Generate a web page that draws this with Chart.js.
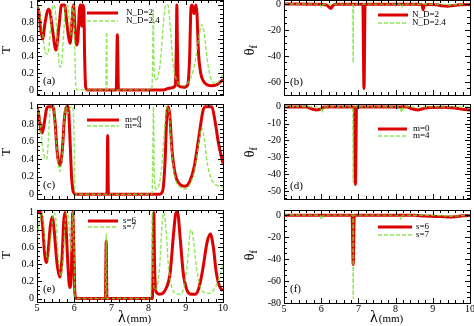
<!DOCTYPE html>
<html>
<head>
<meta charset="utf-8">
<script src="https://cdn.jsdelivr.net/npm/chart.js@4.4.0/dist/chart.umd.min.js"></script>
<style>
  html, body { margin: 0; padding: 0; background: #fff; }
  #wrap { position: relative; width: 474px; height: 326px; overflow: hidden; }
  #wrap canvas { position: absolute; left: 0; top: 0; }
</style>
</head>
<body>
<div id="wrap">
  <canvas id="cA" width="474" height="326"></canvas>
  <canvas id="cB" width="474" height="326"></canvas>
  <canvas id="cC" width="474" height="326"></canvas>
  <canvas id="cD" width="474" height="326"></canvas>
  <canvas id="cE" width="474" height="326"></canvas>
  <canvas id="cF" width="474" height="326"></canvas>
</div>
<script>
// ---- data ----
const xTicks = [5, 6, 7, 8, 9, 10];
const tTicks = [0, 0.2, 0.4, 0.6, 0.8, 1];
const bTicks = [0, -20, -40, -60];
const dTicks = [0, -10, -20, -30, -40, -50];
const fTicks = [0, -20, -40, -60, -80];

const legendA = ['N_D=2', 'N_D=2.4'];
const legendC = ['m=0', 'm=4'];
const legendE = ['s=6', 's=7'];

// (a) transmission, N_D=2 / N_D=2.4
const aRedX = [5.00, 5.05, 5.10, 5.15, 5.22, 5.30, 5.35, 5.42, 5.51, 5.59, 5.66, 5.74, 5.80, 5.85, 5.89, 5.94, 5.98, 6.02, 6.07, 6.10, 6.14, 6.17, 6.20, 6.23, 6.26, 6.28, 6.31, 6.36, 7.13, 7.16, 7.19, 8.40, 8.55, 8.72, 8.745, 8.76, 8.775, 8.80, 8.95, 9.05, 9.10, 9.14, 9.17, 9.22, 9.27, 9.30, 9.34, 9.40, 9.48, 9.58, 9.70, 9.82, 9.92, 10.00];
const aRedY = [1.00, 0.92, 0.72, 0.60, 0.80, 0.95, 0.92, 0.70, 0.47, 0.75, 1.00, 1.00, 0.80, 0.62, 0.55, 0.80, 1.00, 0.75, 0.53, 0.60, 0.95, 1.00, 0.75, 1.00, 0.95, 0.40, 0.03, 0.00, 0.00, 0.65, 0.00, 0.00, 0.02, 0.05, 0.50, 1.00, 0.50, 0.05, 0.03, 0.06, 0.35, 0.97, 1.00, 0.90, 1.00, 0.90, 0.45, 0.20, 0.10, 0.06, 0.05, 0.06, 0.09, 0.12];
const aGreenX = [5.00, 5.06, 5.14, 5.22, 5.29, 5.36, 5.43, 5.48, 5.55, 5.62, 5.66, 5.72, 5.77, 5.83, 5.87, 5.91, 5.95, 5.98, 6.01, 6.04, 6.08, 6.85, 6.87, 6.89, 8.08, 8.11, 8.125, 8.14, 8.18, 8.25, 8.32, 8.40, 8.46, 8.52, 8.58, 8.66, 8.75, 8.85, 8.95, 9.05, 9.15, 9.25, 9.35, 9.43, 9.50, 9.57, 9.65, 9.75, 9.85, 9.93, 10.00];
const aGreenY = [1.00, 0.95, 0.70, 0.45, 0.42, 0.70, 1.00, 0.98, 0.55, 0.27, 0.30, 0.70, 1.00, 1.00, 0.75, 0.65, 0.95, 1.00, 0.60, 0.08, 0.00, 0.00, 0.68, 0.00, 0.00, 0.35, 0.95, 0.35, 0.12, 0.15, 0.35, 0.80, 1.00, 1.00, 0.75, 0.30, 0.12, 0.06, 0.05, 0.08, 0.16, 0.32, 0.62, 0.77, 0.65, 0.38, 0.17, 0.08, 0.08, 0.13, 0.18];

// (b) Faraday rotation, N_D=2 / N_D=2.4
const bRedX = [5.00, 5.90, 6.12, 6.20, 6.26, 6.31, 6.38, 7.12, 7.15, 7.18, 8.60, 8.71, 8.74, 8.77, 8.90, 9.10, 9.25, 9.40, 9.55, 9.75, 10.00];
const bRedY = [0, -0.3, -0.6, -2.2, -3.5, -1.5, -0.3, -0.3, -65, -0.3, -0.3, -0.8, -4.5, -0.8, -0.4, -0.6, -1.5, -1.8, -1.2, -0.6, -0.4];
const bGreenX = [5.00, 5.90, 5.98, 6.01, 6.04, 6.15, 6.85, 6.86, 6.87, 8.08, 8.13, 8.16, 8.19, 8.30, 9.30, 9.50, 9.70, 10.00];
const bGreenY = [0, -0.2, -0.6, -3, -0.6, -0.2, -0.2, -45, -0.2, -0.2, -0.6, -3, -0.6, -0.2, -0.4, -0.8, -0.5, -0.2];

// (c) transmission, m=0 / m=4
const cRedX = [5.00, 5.05, 5.10, 5.14, 5.19, 5.26, 5.30, 5.43, 5.48, 5.55, 5.62, 5.68, 5.74, 5.79, 5.84, 5.88, 5.93, 5.98, 6.05, 6.88, 6.90, 6.92, 8.30, 8.38, 8.44, 8.49, 8.53, 8.57, 8.63, 8.72, 8.85, 8.98, 9.10, 9.22, 9.35, 9.46, 9.52, 9.70, 9.78, 9.88, 10.00];
const cRedY = [1.00, 0.90, 0.74, 0.70, 0.80, 0.98, 1.00, 1.00, 0.85, 0.45, 0.33, 0.50, 0.88, 1.00, 1.00, 0.70, 0.20, 0.02, 0.00, 0.00, 0.67, 0.00, 0.00, 0.04, 0.35, 0.90, 1.00, 0.90, 0.50, 0.22, 0.11, 0.09, 0.14, 0.30, 0.65, 0.95, 1.00, 1.00, 0.85, 0.58, 0.35];
const cGreenX = [5.00, 5.06, 5.13, 5.20, 5.26, 5.31, 5.36, 5.44, 5.50, 5.57, 5.62, 5.67, 5.73, 5.78, 5.83, 5.88, 5.95, 5.99, 6.02, 6.06, 8.09, 8.11, 8.13, 8.15, 8.19, 8.26, 8.35, 8.44, 8.50, 8.55, 8.62, 8.72, 8.85, 9.00, 9.12, 9.25, 9.36, 9.43, 9.50, 9.58, 9.68, 9.80, 9.90, 10.00];
const cGreenY = [1.00, 0.90, 0.62, 0.42, 0.40, 0.65, 1.00, 1.00, 0.70, 0.35, 0.26, 0.40, 0.85, 1.00, 0.92, 0.98, 1.00, 0.80, 0.05, 0.00, 0.00, 0.30, 1.00, 0.30, 0.06, 0.08, 0.30, 0.80, 1.00, 0.95, 0.50, 0.18, 0.08, 0.06, 0.12, 0.30, 0.62, 0.76, 0.62, 0.35, 0.18, 0.11, 0.09, 0.08];

// (d) Faraday rotation, m=0 / m=4
const dRedX = [5.00, 5.60, 5.75, 5.88, 6.00, 6.10, 6.89, 6.92, 6.95, 8.30, 8.45, 8.60, 8.75, 8.90, 9.30, 9.60, 9.80, 10.00];
const dRedY = [-0.2, -0.3, -1.4, -2.0, -1.2, -0.3, -0.3, -46, -0.3, -0.3, -1.4, -2.0, -1.2, -0.5, -0.4, -0.8, -1.6, -2.0];
const dGreenX = [5.00, 5.95, 5.99, 6.02, 6.05, 6.12, 6.85, 6.86, 6.87, 8.10, 8.13, 8.16, 8.19, 8.26, 10.00];
const dGreenY = [0, -0.3, -0.8, -3.5, -0.8, -0.2, -0.2, -45, -0.2, -0.2, -0.8, -3.5, -0.8, -0.2, -0.2];

// (e) transmission, s=6 / s=7
const eRedX = [5.00, 5.10, 5.15, 5.21, 5.25, 5.30, 5.36, 5.41, 5.46, 5.54, 5.61, 5.67, 5.72, 5.75, 5.78, 5.83, 5.88, 5.92, 5.96, 5.99, 6.02, 6.06, 6.84, 6.86, 6.88, 8.10, 8.12, 8.14, 8.16, 8.20, 8.30, 8.45, 8.58, 8.67, 8.74, 8.78, 8.85, 8.93, 9.03, 9.15, 9.25, 9.35, 9.46, 9.57, 9.66, 9.74, 9.82, 9.90, 10.00];
const eRedY = [1.00, 1.00, 0.85, 0.50, 0.42, 0.55, 0.85, 0.95, 0.80, 0.40, 0.25, 0.45, 0.90, 1.00, 0.85, 0.40, 0.13, 0.25, 1.00, 0.60, 0.05, 0.00, 0.00, 0.67, 0.00, 0.00, 0.40, 1.00, 0.40, 0.08, 0.05, 0.10, 0.30, 0.75, 1.00, 1.00, 0.70, 0.30, 0.10, 0.05, 0.05, 0.12, 0.35, 0.65, 0.75, 0.60, 0.30, 0.15, 0.09];
const eGreenX = [5.00, 5.05, 5.12, 5.17, 5.24, 5.30, 5.37, 5.45, 5.50, 5.57, 5.64, 5.70, 5.76, 5.80, 5.84, 5.88, 5.92, 5.96, 5.99, 6.02, 6.06, 6.84, 6.86, 6.88, 8.06, 8.08, 8.10, 8.12, 8.16, 8.22, 8.30, 8.36, 8.41, 8.46, 8.53, 8.62, 8.74, 8.86, 8.96, 9.05, 9.11, 9.15, 9.20, 9.28, 9.38, 9.50, 9.62, 9.75, 9.88, 10.00];
const eGreenY = [0.72, 0.85, 1.00, 0.90, 0.55, 0.45, 0.70, 1.00, 0.95, 0.50, 0.26, 0.45, 0.90, 1.00, 0.95, 0.70, 0.55, 1.00, 0.70, 0.03, 0.00, 0.00, 0.75, 0.00, 0.00, 0.40, 1.00, 0.40, 0.10, 0.12, 0.40, 0.85, 1.00, 0.85, 0.40, 0.14, 0.06, 0.05, 0.15, 0.45, 0.75, 0.80, 0.70, 0.38, 0.15, 0.07, 0.06, 0.10, 0.22, 0.40];

// (f) Faraday rotation, s=6 / s=7
const fRedX = [5.00, 6.83, 6.86, 6.89, 8.50, 8.80, 9.10, 9.40, 9.60, 9.80, 10.00];
const fRedY = [-0.2, -0.3, -45, -0.3, -0.3, -0.9, -1.3, -1.8, -1.6, -0.8, -0.4];
const fGreenX = [5.00, 5.95, 5.98, 6.01, 6.04, 6.10, 6.85, 6.86, 6.87, 8.08, 8.11, 8.14, 8.17, 8.23, 9.20, 9.50, 9.80, 10.00];
const fGreenY = [0, -0.3, -0.8, -4, -0.8, -0.2, -0.2, -76, -0.2, -0.2, -0.8, -4, -0.8, -0.2, -0.6, -1.2, -0.6, -0.3];

// ---- styling ----
const RED = '#dd0000';
const GREEN = 'rgba(110, 225, 40, 0.78)';
const SERIF = "'Liberation Serif', 'DejaVu Serif', serif";
const Y_AXIS_W = 30;
const X_AXIS_H = 14;

const toPoints = (xs, ys) => xs.map((x, i) => ({ x: x, y: ys[i] }));

// draws the frame ticks, legend, labels and titles of one panel
const panelDecor = {
    id: 'panelDecor',
    afterDraw(chart, args, o) {
        const { ctx, chartArea: a, scales: { x, y } } = chart;
        ctx.save();

        // top and right frame
        ctx.strokeStyle = '#000';
        ctx.lineWidth = 1;
        ctx.beginPath();
        ctx.moveTo(a.left, a.top + 0.5);
        ctx.lineTo(a.right + 1, a.top + 0.5);
        ctx.moveTo(a.right + 0.5, a.top);
        ctx.lineTo(a.right + 0.5, a.bottom + 1);
        ctx.stroke();

        // inward ticks on all four sides
        ctx.beginPath();
        const xn = Math.round((x.max - x.min) / o.xMinor);
        for (let i = 0; i <= xn; i++) {
            const v = x.min + i * o.xMinor;
            const major = xTicks.some(t => Math.abs(t - v) < 1e-6);
            const len = major ? 5 : 3;
            const px = Math.round(x.getPixelForValue(v)) + 0.5;
            ctx.moveTo(px, a.bottom);
            ctx.lineTo(px, a.bottom - len);
            ctx.moveTo(px, a.top);
            ctx.lineTo(px, a.top + len);
        }
        const yStart = Math.ceil(y.min / o.yMinor - 1e-6);
        const yEnd = Math.floor(y.max / o.yMinor + 1e-6);
        for (let k = yStart; k <= yEnd; k++) {
            const v = k * o.yMinor;
            const major = o.yTicks.some(t => Math.abs(t - v) < 1e-6);
            const len = major ? 5 : 3;
            const py = Math.round(y.getPixelForValue(v)) + 0.5;
            ctx.moveTo(a.left, py);
            ctx.lineTo(a.left + len, py);
            ctx.moveTo(a.right, py);
            ctx.lineTo(a.right - len, py);
        }
        ctx.stroke();

        // legend
        const lg = o.legend;
        ctx.lineWidth = 3;
        ctx.strokeStyle = RED;
        ctx.beginPath();
        ctx.moveTo(lg.x1, lg.y1);
        ctx.lineTo(lg.x2, lg.y1);
        ctx.stroke();
        ctx.lineWidth = 1.4;
        ctx.strokeStyle = GREEN;
        ctx.setLineDash([4, 2]);
        ctx.beginPath();
        ctx.moveTo(lg.x1, lg.y2);
        ctx.lineTo(lg.x2, lg.y2);
        ctx.stroke();
        ctx.setLineDash([]);
        ctx.fillStyle = '#000';
        ctx.font = '9px ' + SERIF;
        ctx.textAlign = 'left';
        ctx.textBaseline = 'middle';
        ctx.fillText(o.names[0], lg.tx, lg.y1);
        ctx.fillText(o.names[1], lg.tx, lg.y2);

        // panel tag, e.g. (a)
        ctx.font = '11px ' + SERIF;
        ctx.fillText(o.tag, o.tagPos[0], o.tagPos[1]);

        // y axis title
        ctx.save();
        ctx.translate(o.titlePos[0], o.titlePos[1]);
        ctx.rotate(-Math.PI / 2);
        ctx.textAlign = 'center';
        if (o.title === 'T') {
            ctx.font = '13px ' + SERIF;
            ctx.fillText('T', 0, 0);
        } else {
            ctx.font = '15px ' + SERIF;
            ctx.textAlign = 'left';
            const w = ctx.measureText('θ').width;
            ctx.fillText('θ', -w / 2 - 2, 0);
            ctx.font = '10px ' + SERIF;
            ctx.fillText('f', w / 2 - 2, 4);
        }
        ctx.restore();

        // x axis title on the bottom row
        if (o.xTitle) {
            ctx.textAlign = 'left';
            ctx.textBaseline = 'alphabetic';
            ctx.font = '16px ' + SERIF;
            ctx.fillText('λ', o.xTitle[0], o.xTitle[1]);
            const lw = ctx.measureText('λ').width;
            ctx.font = '11px ' + SERIF;
            ctx.fillText('(mm)', o.xTitle[0] + lw + 1, o.xTitle[1]);
        }
        ctx.restore();
    }
};

function makePanel(p) {
    const ctx = document.getElementById(p.id).getContext('2d');
    return new Chart(ctx, {
        type: 'line',
        data: {
            datasets: [{
                data: toPoints(p.redX, p.redY),
                borderColor: RED,
                borderWidth: 3,
                order: 2
            }, {
                data: toPoints(p.greenX, p.greenY),
                borderColor: GREEN,
                borderWidth: 1.4,
                borderDash: [4, 2],
                order: 1
            }]
        },
        options: {
            responsive: false,
            animation: false,
            events: [],
            layout: {
                autoPadding: false,
                padding: {
                    left: p.box.l - Y_AXIS_W,
                    top: p.box.t,
                    right: 474 - p.box.r,
                    bottom: 326 - p.box.b - X_AXIS_H
                }
            },
            elements: {
                point: { radius: 0 },
                line: { cubicInterpolationMode: 'monotone', borderJoinStyle: 'round' }
            },
            plugins: {
                legend: { display: false },
                tooltip: { enabled: false },
                panelDecor: {
                    xMinor: 0.2,
                    yMinor: p.yMinor,
                    yTicks: p.yTicks,
                    legend: p.legend,
                    names: p.names,
                    tag: p.tag,
                    tagPos: p.tagPos,
                    title: p.title,
                    titlePos: p.titlePos,
                    xTitle: p.xTitle
                }
            },
            scales: {
                x: {
                    type: 'linear',
                    min: 5,
                    max: 10,
                    afterBuildTicks: s => { s.ticks = xTicks.map(v => ({ value: v })); },
                    afterFit: s => { s.height = X_AXIS_H; s.paddingLeft = 0; s.paddingRight = 0; },
                    grid: { display: false, drawTicks: false },
                    border: { display: true, color: '#000', width: 1 },
                    ticks: {
                        display: p.showX,
                        padding: 0,
                        maxRotation: 0,
                        autoSkip: false,
                        color: '#000',
                        font: { family: SERIF, size: 10 }
                    }
                },
                y: {
                    type: 'linear',
                    min: p.yMin,
                    max: p.yMax,
                    afterBuildTicks: s => { s.ticks = p.yTicks.map(v => ({ value: v })); },
                    afterFit: s => { s.width = Y_AXIS_W; s.paddingTop = 0; s.paddingBottom = 0; },
                    grid: { display: false, drawTicks: false },
                    border: { display: true, color: '#000', width: 1 },
                    ticks: {
                        padding: 3,
                        autoSkip: false,
                        color: '#000',
                        font: { family: SERIF, size: 10 },
                        callback: v => String(v)
                    }
                }
            }
        },
        plugins: [panelDecor]
    });
}

const panels = [
    { id: 'cA', box: { l: 37, t: 0, r: 223, b: 95 }, yMin: -0.06, yMax: 1.06, yTicks: tTicks, yMinor: 0.05,
      redX: aRedX, redY: aRedY, greenX: aGreenX, greenY: aGreenY, names: legendA,
      legend: { x1: 87, x2: 118, tx: 126, y1: 13, y2: 21 }, tag: '(a)', tagPos: [43, 81],
      title: 'T', titlePos: [7, 50], showX: false },
    { id: 'cB', box: { l: 284, t: 0, r: 470, b: 95 }, yMin: -70, yMax: 3, yTicks: bTicks, yMinor: 5,
      redX: bRedX, redY: bRedY, greenX: bGreenX, greenY: bGreenY, names: legendA,
      legend: { x1: 378, x2: 408, tx: 412, y1: 15, y2: 23 }, tag: '(b)', tagPos: [290, 82],
      title: 'theta', titlePos: [250, 50], showX: false },
    { id: 'cC', box: { l: 37, t: 104, r: 223, b: 199 }, yMin: -0.055, yMax: 1.03, yTicks: tTicks, yMinor: 0.05,
      redX: cRedX, redY: cRedY, greenX: cGreenX, greenY: cGreenY, names: legendC,
      legend: { x1: 87, x2: 119, tx: 125, y1: 120, y2: 126 }, tag: '(c)', tagPos: [43, 185],
      title: 'T', titlePos: [7, 152], showX: false },
    { id: 'cD', box: { l: 284, t: 104, r: 470, b: 199 }, yMin: -54.5, yMax: 1.5, yTicks: dTicks, yMinor: 2,
      redX: dRedX, redY: dRedY, greenX: dGreenX, greenY: dGreenY, names: legendC,
      legend: { x1: 378, x2: 407, tx: 413, y1: 129, y2: 136 }, tag: '(d)', tagPos: [290, 186],
      title: 'theta', titlePos: [250, 152], showX: false },
    { id: 'cE', box: { l: 37, t: 210, r: 223, b: 302 }, yMin: -0.04, yMax: 1.03, yTicks: tTicks, yMinor: 0.05,
      redX: eRedX, redY: eRedY, greenX: eGreenX, greenY: eGreenY, names: legendE,
      legend: { x1: 88, x2: 118, tx: 123, y1: 221, y2: 227 }, tag: '(e)', tagPos: [43, 289],
      title: 'T', titlePos: [7, 255], showX: true, xTitle: [118, 322] },
    { id: 'cF', box: { l: 284, t: 210, r: 470, b: 303 }, yMin: -80, yMax: 4.5, yTicks: fTicks, yMinor: 5,
      redX: fRedX, redY: fRedY, greenX: fGreenX, greenY: fGreenY, names: legendE,
      legend: { x1: 378, x2: 412, tx: 416, y1: 227, y2: 235 }, tag: '(f)', tagPos: [290, 289],
      title: 'theta', titlePos: [250, 255], showX: true, xTitle: [370, 322] }
];

panels.forEach(makePanel);
</script>
</body>
</html>
